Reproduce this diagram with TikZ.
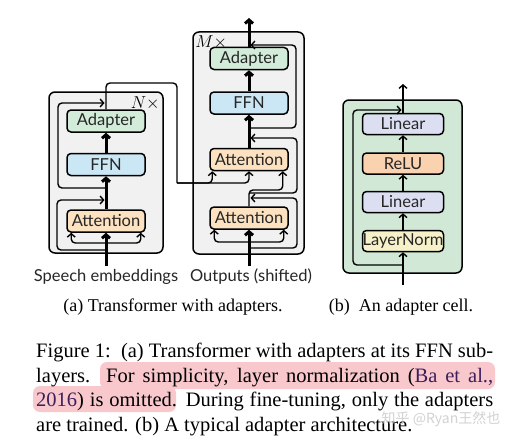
\documentclass[tikz,border=0pt]{standalone}
\usepackage{fontspec}
\setmainfont{Liberation Serif}
\newfontfamily\diagfont{Lato}
\newfontfamily\cjkfont{Noto Sans CJK SC}
\usetikzlibrary{positioning}
\usetikzlibrary{arrows.meta}
\definecolor{stackgray}{HTML}{F1F1F1}
\definecolor{adaptgreen}{HTML}{D3EBD9}
\definecolor{ffnblue}{HTML}{CBE7F6}
\definecolor{attnorange}{HTML}{FCE2C0}
\definecolor{cellgreen}{HTML}{D0E8D5}
\definecolor{linearblue}{HTML}{DCDFF2}
\definecolor{reluorange}{HTML}{FAD2AF}
\definecolor{normyellow}{HTML}{F6F1C8}
\definecolor{markpink}{HTML}{F8C8CD}
\definecolor{citecol}{HTML}{3C1E5A}
\begin{document}
\begin{tikzpicture}[x=1pt,y=-1pt,
		block/.style={draw,line width=1.5pt,rounded corners=4pt,inner sep=0pt,minimum width=78pt,minimum height=22pt,text=black!85,font=\diagfont\fontsize{16.5}{18}\selectfont},
		adapterbox/.style={block,fill=adaptgreen},
		ffnbox/.style={block,fill=ffnblue},
		attnbox/.style={block,fill=attnorange},
		cellbox/.style={block,minimum width=81pt,minimum height=21pt},
		stackbox/.style={draw,line width=1.5pt,rounded corners=6pt,inner sep=0pt},
		thickflow/.style={line width=3pt,-{Straight Barb[length=3.5pt,width=8pt]}},
		flow/.style={line width=1.4pt,rounded corners=4pt,-{Straight Barb[length=3.5pt,width=8pt]}},
		wire/.style={line width=1.4pt,rounded corners=4pt},
		inlabel/.style={font=\diagfont\fontsize{16.5}{18}\selectfont,text=black!85,inner sep=0pt,anchor=base}
	]
	\useasboundingbox[fill=white] (0,0) rectangle (519,444);
	% stacks
	\node[stackbox,fill=stackgray,minimum width=114pt,minimum height=161pt] at (106,172.5) (encstack) {};
	\node[anchor=north east,inner sep=0pt,font=\fontsize{17}{17}\selectfont] at ([xshift=-4pt,yshift=-5pt]encstack.north east) (encN) {$N\times$};
	\node[stackbox,fill=stackgray,minimum width=111pt,minimum height=222pt] at (248.5,143) (decstack) {};
	\node[anchor=north west,inner sep=0pt,font=\fontsize{17}{17}\selectfont] at ([xshift=3pt,yshift=-4pt]decstack.north west) (decM) {$M\times$};
	\node[stackbox,fill=cellgreen,minimum width=119pt,minimum height=173pt] at (402.5,186.5) (cellstack) {};
	% encoder
	\node[attnbox] at (106,221) (encattn) {Attention};
	\node[ffnbox,above = 33pt of encattn] (encffn) {FFN};
	\node[adapterbox,above = 20pt of encffn] (encadapt) {Adapter};
	% decoder
	\node[attnbox] at (249,218) (selfattn) {Attention};
	\node[attnbox,above = 35pt of selfattn] (crossattn) {Attention};
	\node[ffnbox,above = 33pt of crossattn] (decffn) {FFN};
	\node[adapterbox,above = 21pt of decffn] (decadapt) {Adapter};
	% adapter cell
	\node[cellbox,fill=normyellow] at (403,241) (norm) {LayerNorm};
	\node[cellbox,fill=linearblue,above = 16.5pt of norm] (lindown) {Linear};
	\node[cellbox,fill=reluorange,above = 16pt of lindown] (relu) {ReLU};
	\node[cellbox,fill=linearblue,above = 17pt of relu] (linup) {Linear};
	% inputs
	\node[inlabel] at (106,281) (speech) {Speech embeddings};
	\node[inlabel] at (251,281) (shifted) {Outputs (shifted)};
	% junctions
	\coordinate (encin) at (106,266);
	\coordinate (encsplit) at (106,243);
	\coordinate (encres1) at (106,250);
	\coordinate (encloop1) at (57,200);
	\coordinate (encjoin1) at (104.5,200);
	\coordinate (encres2) at (106,188);
	\coordinate (encloop2) at (58,103);
	\coordinate (encjoin2) at (104.5,103);
	\coordinate (encturn) at (177,83);
	\coordinate (memory) at (177,183);
	\coordinate (decin) at (249,266);
	\coordinate (decsplit) at (249,242);
	\coordinate (decres1) at (249,248);
	\coordinate (decloop1) at (297,198);
	\coordinate (decjoin1) at (250.5,198);
	\coordinate (query) at (249,190);
	\coordinate (decres2) at (249,193);
	\coordinate (decloop2) at (297,138);
	\coordinate (decjoin2) at (250.5,138);
	\coordinate (decres3) at (249,128);
	\coordinate (decloop3) at (296,45);
	\coordinate (decjoin3) at (250.5,45);
	\coordinate (decout) at (249,18);
	\coordinate (cellin) at (403,285);
	\coordinate (cellres) at (403,265);
	\coordinate (cellloop) at (353,110);
	\coordinate (celljoin) at (401.5,110);
	\coordinate (cellout) at (403,84);
	% encoder connectors
	\draw[thickflow] (encin) -- (encattn.south);
	\draw[flow] (encsplit) -| ([xshift=5pt]encattn.south west);
	\draw[flow] (encsplit) -| ([xshift=-5pt]encattn.south east);
	\draw[flow] (encres1) -| (encloop1) -- (encjoin1);
	\draw[thickflow] (encattn.north) -- (encffn.south);
	\draw[flow] (encres2) -| (encloop2) -- (encjoin2);
	\draw[thickflow] (encffn.north) -- (encadapt.south);
	\draw[wire] (encadapt.north) |- (encturn) |- (memory);
	% decoder connectors
	\draw[thickflow] (decin) -- (selfattn.south);
	\draw[flow] (decsplit) -| ([xshift=5pt]selfattn.south west);
	\draw[flow] (decsplit) -| ([xshift=-5pt]selfattn.south east);
	\draw[flow] (decres1) -| (decloop1) -- (decjoin1);
	\draw[flow] (memory) -| ([xshift=3pt]crossattn.south west);
	\draw[flow] (memory) -| (crossattn.south);
	\draw[flow] (selfattn.north) -- (query) -| ([xshift=-6pt]crossattn.south east);
	\draw[flow] (decres2) -| (decloop2) -- (decjoin2);
	\draw[thickflow] (crossattn.north) -- (decffn.south);
	\draw[flow] (decres3) -| (decloop3) -- (decjoin3);
	\draw[thickflow] (decffn.north) -- (decadapt.south);
	\draw[thickflow] (decadapt.north) -- (decout);
	% adapter cell connectors
	\draw[flow] (cellin) -- (norm.south);
	\draw[flow] (norm.north) -- (lindown.south);
	\draw[flow] (lindown.north) -- (relu.south);
	\draw[flow] (relu.north) -- (linup.south);
	\draw[flow] (linup.north) -- (cellout);
	\draw[flow] (cellres) -| (cellloop) -- (celljoin);
	% captions
	\node[anchor=base,inner sep=0pt,font=\fontsize{18}{22}\selectfont] at (173,311) (capa) {(a) Transformer with adapters.};
	\node[anchor=base,inner sep=0pt,font=\fontsize{18}{22}\selectfont] at (401,311) (capb) {(b)\ \ An adapter cell.};
	\fill[markpink,rounded corners=7pt] (100,362) rectangle (495,389);
	\fill[markpink,rounded corners=7pt] (33,386) rectangle (176,412);
	\node[anchor=north west,inner sep=0pt,text width=457pt,align=justify,font=\fontsize{20.5}{24.5}\selectfont] at (36,343) (caption) {Figure 1:\ \ (a) Transformer with adapters at its FFN sub-\linebreak layers.\ \ For simplicity, layer normalization ({\color{citecol}Ba et al.,\linebreak 2016}) is omitted. During fine-tuning, only the adapters\linebreak are trained. (b) A typical adapter architecture.};
	\node[font=\cjkfont\fontsize{14}{14}\selectfont,text=gray!50,opacity=0.7] at (441,419) (mark) {知乎 @Ryan王然也};
\end{tikzpicture}
\end{document}
